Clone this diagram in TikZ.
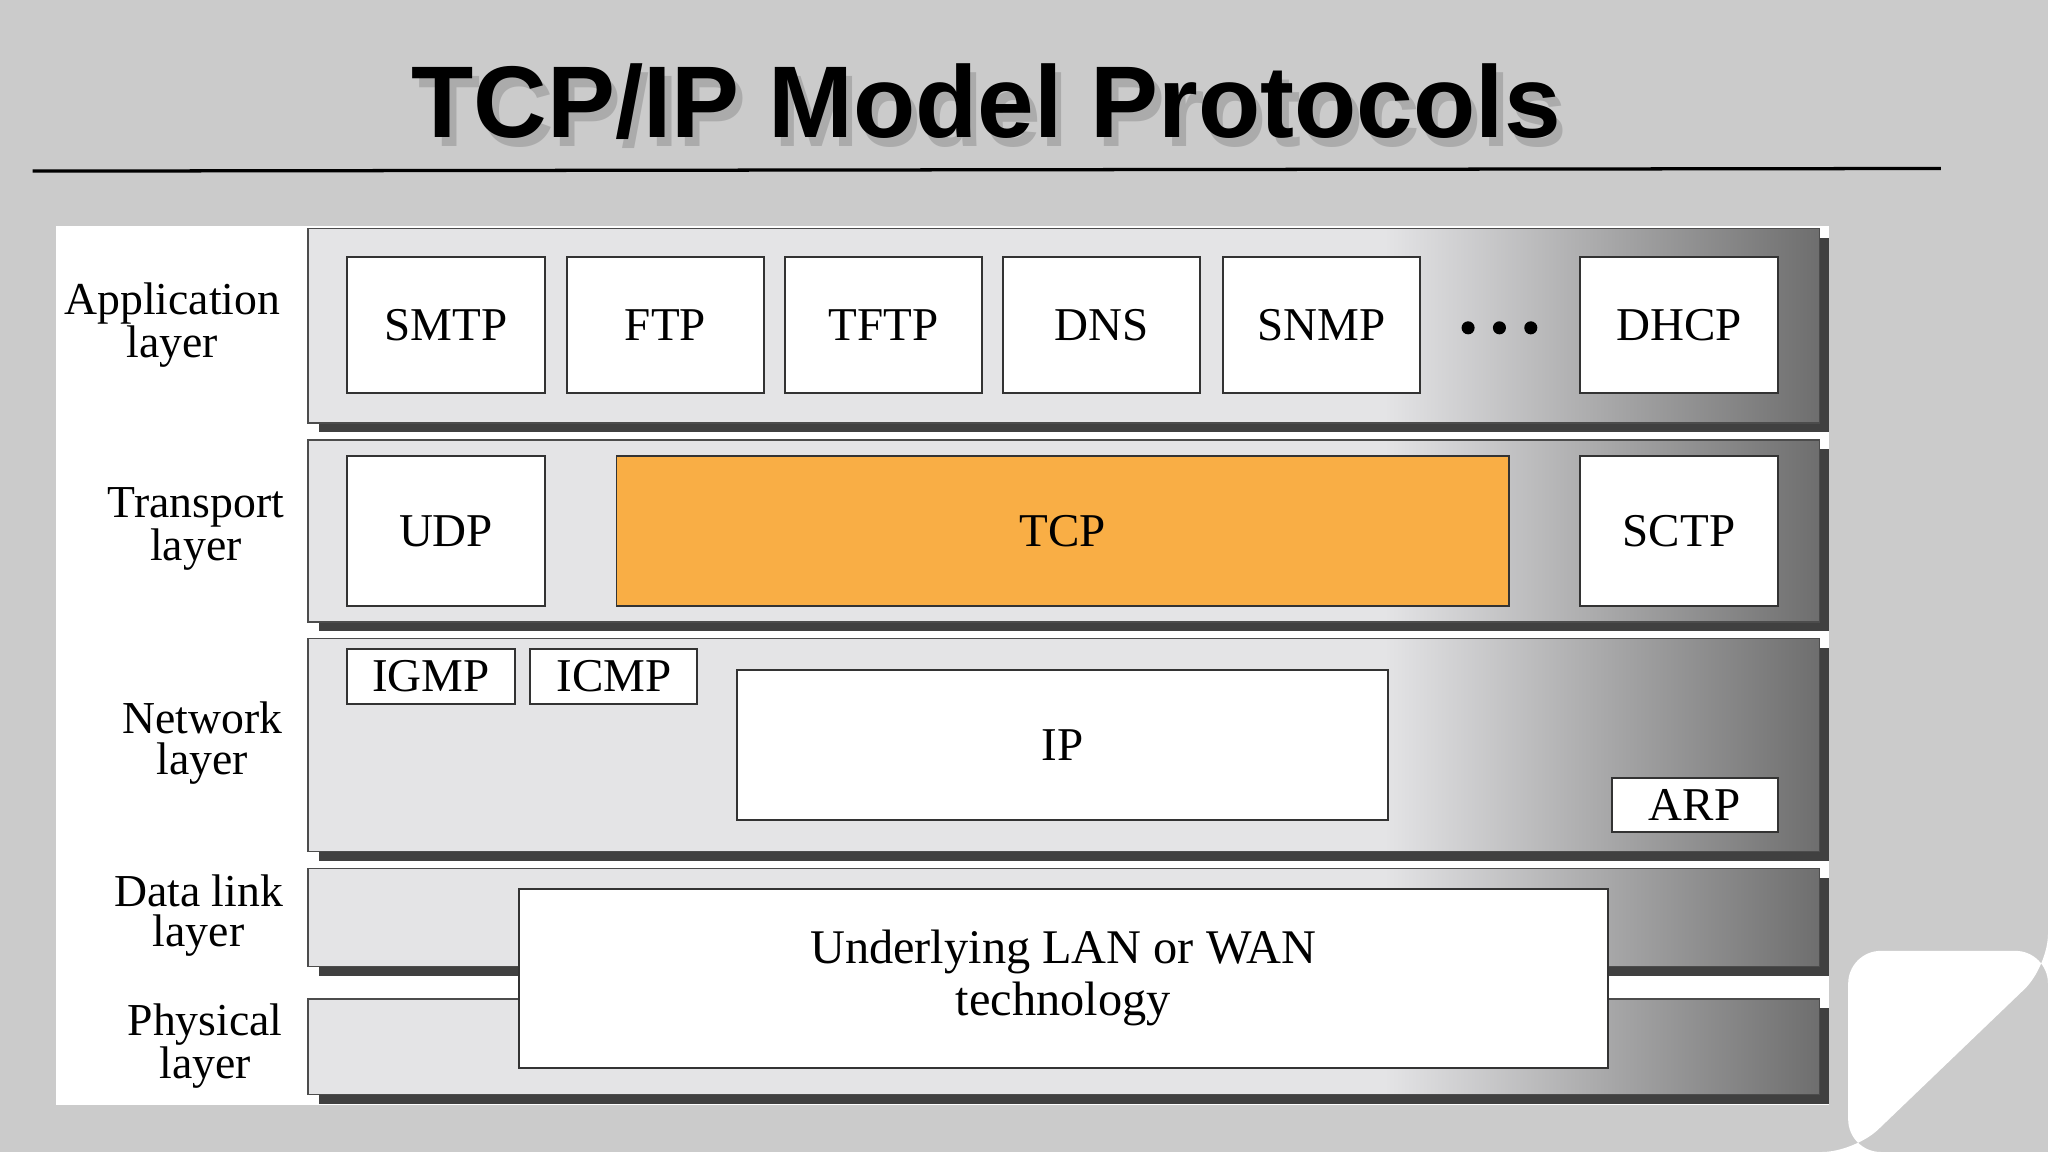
\documentclass[tikz,border=0pt]{standalone}
\usepackage{fontspec}
\setmainfont{Liberation Serif}
\newfontfamily\titlefont{Liberation Sans}
\definecolor{bg}{HTML}{CBCBCB}
\definecolor{bandl}{HTML}{E4E4E6}
\definecolor{bandd}{HTML}{6E6E6E}
\definecolor{tcporange}{HTML}{F9AE45}
\tikzset{
  lbl/.style={align=center,font=\fontsize{35}{31}\selectfont,inner sep=0pt},
  proto/.style={draw=black!80,line width=1.5pt,fill=white,font=\fontsize{36}{36}\selectfont},
}
\newcommand{\band}[3]{% name, y1, y2
  \fill[black!75] (244,#2+7) rectangle (1400,#3+7);
  \fill[bandl] (236,#2) rectangle (1393,#3);
  \shade[left color=bandl,right color=bandd] (1060,#2) rectangle (1393,#3);
  \draw[black!70,line width=1.2pt] (236,#2) rectangle (1393,#3);
  \coordinate (#1) at (236,#2);
}
\newcommand{\pbox}[6]{% name,x1,y1,x2,y2,text
  \node[proto,minimum width=#4-#2,minimum height=#5-#3] (#1) at ({(#2+#4)/2},{(#3+#5)/2}) {#6};
}
\begin{document}
\begin{tikzpicture}[x=1pt,y=-1pt]
\fill[bg] (0,0) rectangle (1568,882);
\useasboundingbox (0,0) rectangle (1568,882);
% title
\node[font=\titlefont\bfseries\fontsize{78}{78}\selectfont,text=black!45,opacity=0.5] (titleshadow) at (760,85) {TCP/IP Model Protocols};
\node[font=\titlefont\bfseries\fontsize{78}{78}\selectfont] (title) at (755,78) {TCP/IP Model Protocols};
\draw[line width=2.5pt] (25,131) -- (1486,129);
% white panel
\fill[white] (43,173) rectangle (1400,846);
% corner
\fill[white,rounded corners=25pt] (1415,882) -- (1415,728) -- (1568,728) -- (1568,740) -- (1420,882) -- cycle;
% bands
\band{app}{175}{324}
\band{tra}{337}{476}
\band{net}{489}{652}
\band{dl}{665}{740}
\band{ph}{765}{838}
% layer labels
\node[lbl] (l1) at (132,249) {Application\\layer};
\node[lbl] (l2) at (150,405) {Transport\\layer};
\node[lbl] (l3) at (155,569) {Network\\layer};
\node[lbl] (l4) at (152,701) {Data link\\layer};
\node[lbl] (l5) at (157,801) {Physical\\layer};
% app protocols
\pbox{smtp}{266}{197}{417}{301}{SMTP}
\pbox{ftp}{434}{197}{585}{301}{FTP}
\pbox{tftp}{601}{197}{752}{301}{TFTP}
\pbox{dns}{768}{197}{919}{301}{DNS}
\pbox{snmp}{936}{197}{1087}{301}{SNMP}
\pbox{dhcp}{1210}{197}{1361}{301}{DHCP}
\foreach \x in {1124,1148,1172} \fill (\x,251) circle (5);
% transport
\pbox{udp}{266}{349}{417}{464}{UDP}
\node[proto,fill=tcporange,minimum width=683,minimum height=115] (tcp) at (813.5,406.5) {TCP};
\pbox{sctp}{1210}{349}{1361}{464}{SCTP}
% network
\pbox{igmp}{266}{497}{394}{539}{IGMP}
\pbox{icmp}{406}{497}{534}{539}{ICMP}
\pbox{ip}{564}{513}{1063}{628}{IP}
\pbox{arp}{1234}{596}{1361}{637}{ARP}
% underlying
\node[proto,align=center,minimum width=834,minimum height=137,font=\fontsize{37}{40}\selectfont] (lan) at (814,749) {Underlying LAN or WAN\\technology};
\end{tikzpicture}
\end{document}
